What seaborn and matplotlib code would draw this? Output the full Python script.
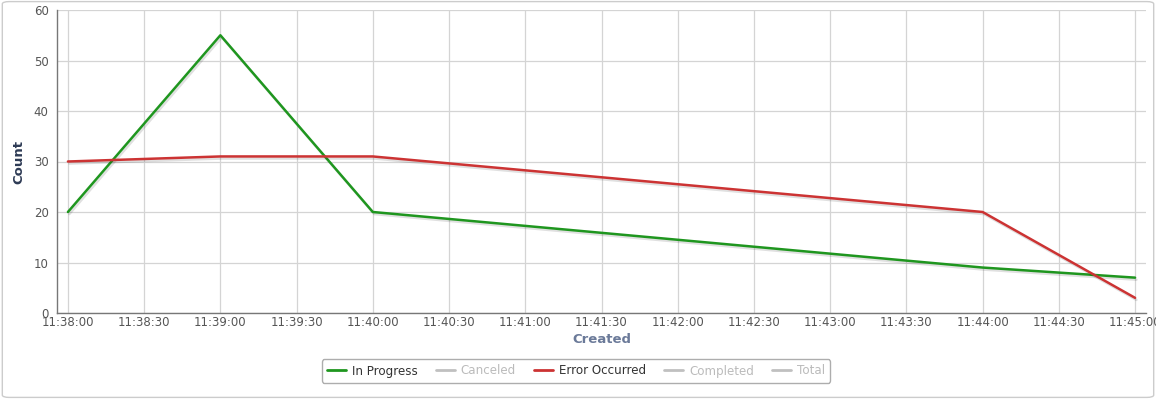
import matplotlib
matplotlib.use("Agg")
import matplotlib.pyplot as plt
from matplotlib.lines import Line2D
from matplotlib.patches import FancyBboxPatch
import matplotlib.patheffects as pe
import seaborn as sns
import pandas as pd

times = ["11:38:00", "11:39:00", "11:40:00", "11:44:00", "11:45:00"]
in_progress = [20, 55, 20, 9, 7]
error_occurred = [30, 31, 31, 20, 3]
legend_names = ["In Progress", "Canceled", "Error Occurred", "Completed", "Total"]
legend_visible = [True, False, True, False, False]
xtick_labels = ["11:38:00", "11:38:30", "11:39:00", "11:39:30", "11:40:00", "11:40:30",
                "11:41:00", "11:41:30", "11:42:00", "11:42:30", "11:43:00", "11:43:30",
                "11:44:00", "11:44:30", "11:45:00"]
yticks = [0, 10, 20, 30, 40, 50, 60]

colors = {"In Progress": "#1f961f", "Error Occurred": "#cc3333"}
hidden_color = "#c0c0c0"

t = pd.to_datetime(["2020-01-01 " + s for s in times])
df = pd.DataFrame({
    "Created": list(t) * 2,
    "Count": in_progress + error_occurred,
    "Series": ["In Progress"] * len(t) + ["Error Occurred"] * len(t),
})

sns.set_theme(style="white")
plt.rcParams["font.family"] = ["DejaVu Sans"]

fig = plt.figure(figsize=(11.56, 3.99), dpi=100)
ax = fig.add_axes([57 / 1156, 1 - 313 / 399, (1146 - 57) / 1156, (313 - 10) / 399])

sns.lineplot(data=df, x="Created", y="Count", hue="Series", palette=colors,
             ax=ax, linewidth=1.8, legend=False, zorder=3)
for ln in ax.get_lines():
    ln.set_path_effects([pe.SimpleLineShadow(offset=(1, -1.5), shadow_color="#000", alpha=0.12),
                         pe.Normal()])

xt = pd.to_datetime(["2020-01-01 " + s for s in xtick_labels])
pad = pd.Timedelta(seconds=4.3)
ax.set_xlim(xt[0] - pad, xt[-1] + pad)
ax.set_xticks(xt)
ax.set_xticklabels(xtick_labels)
ax.set_ylim(0, 60)
ax.set_yticks(yticks)

ax.grid(True, color="#d4d4d4", linewidth=0.9)
ax.set_axisbelow(True)
for s in ["top", "right"]:
    ax.spines[s].set_visible(False)
for s in ["left", "bottom"]:
    ax.spines[s].set_color("#777777")
    ax.spines[s].set_linewidth(1.0)

ax.tick_params(axis="both", which="both", length=0, labelsize=8.5, colors="#555555")
ax.tick_params(axis="x", pad=2)
ax.tick_params(axis="y", pad=6)

ax.set_xlabel("Created", fontsize=9.5, fontweight="bold", color="#6b7a99", labelpad=3)
ax.set_ylabel("Count", fontsize=9.5, fontweight="bold", color="#2e3b55", labelpad=6)

# legend
handles = []
for name, vis in zip(legend_names, legend_visible):
    c = colors.get(name, hidden_color) if vis else hidden_color
    handles.append(Line2D([0], [0], color=c, linewidth=2))
leg = fig.legend(handles, legend_names, loc="center", bbox_to_anchor=(576 / 1156, 1 - 371 / 399),
                 ncol=5, frameon=True, fontsize=8.6, handlelength=1.6, handletextpad=0.5,
                 columnspacing=1.5, borderpad=0.45, fancybox=True)
leg.get_frame().set_edgecolor("#999999")
leg.get_frame().set_linewidth(1.0)
for txt, vis in zip(leg.get_texts(), legend_visible):
    txt.set_color("#333333" if vis else "#bbbbbb")

# outer border
border = FancyBboxPatch((0.002, 0.004), 0.996, 0.992, transform=fig.transFigure,
                        boxstyle="round,pad=0,rounding_size=0.006", fill=False,
                        edgecolor="#cccccc", linewidth=1.0, zorder=-1)
fig.patches.append(border)

fig.savefig("out.png", dpi=100)
